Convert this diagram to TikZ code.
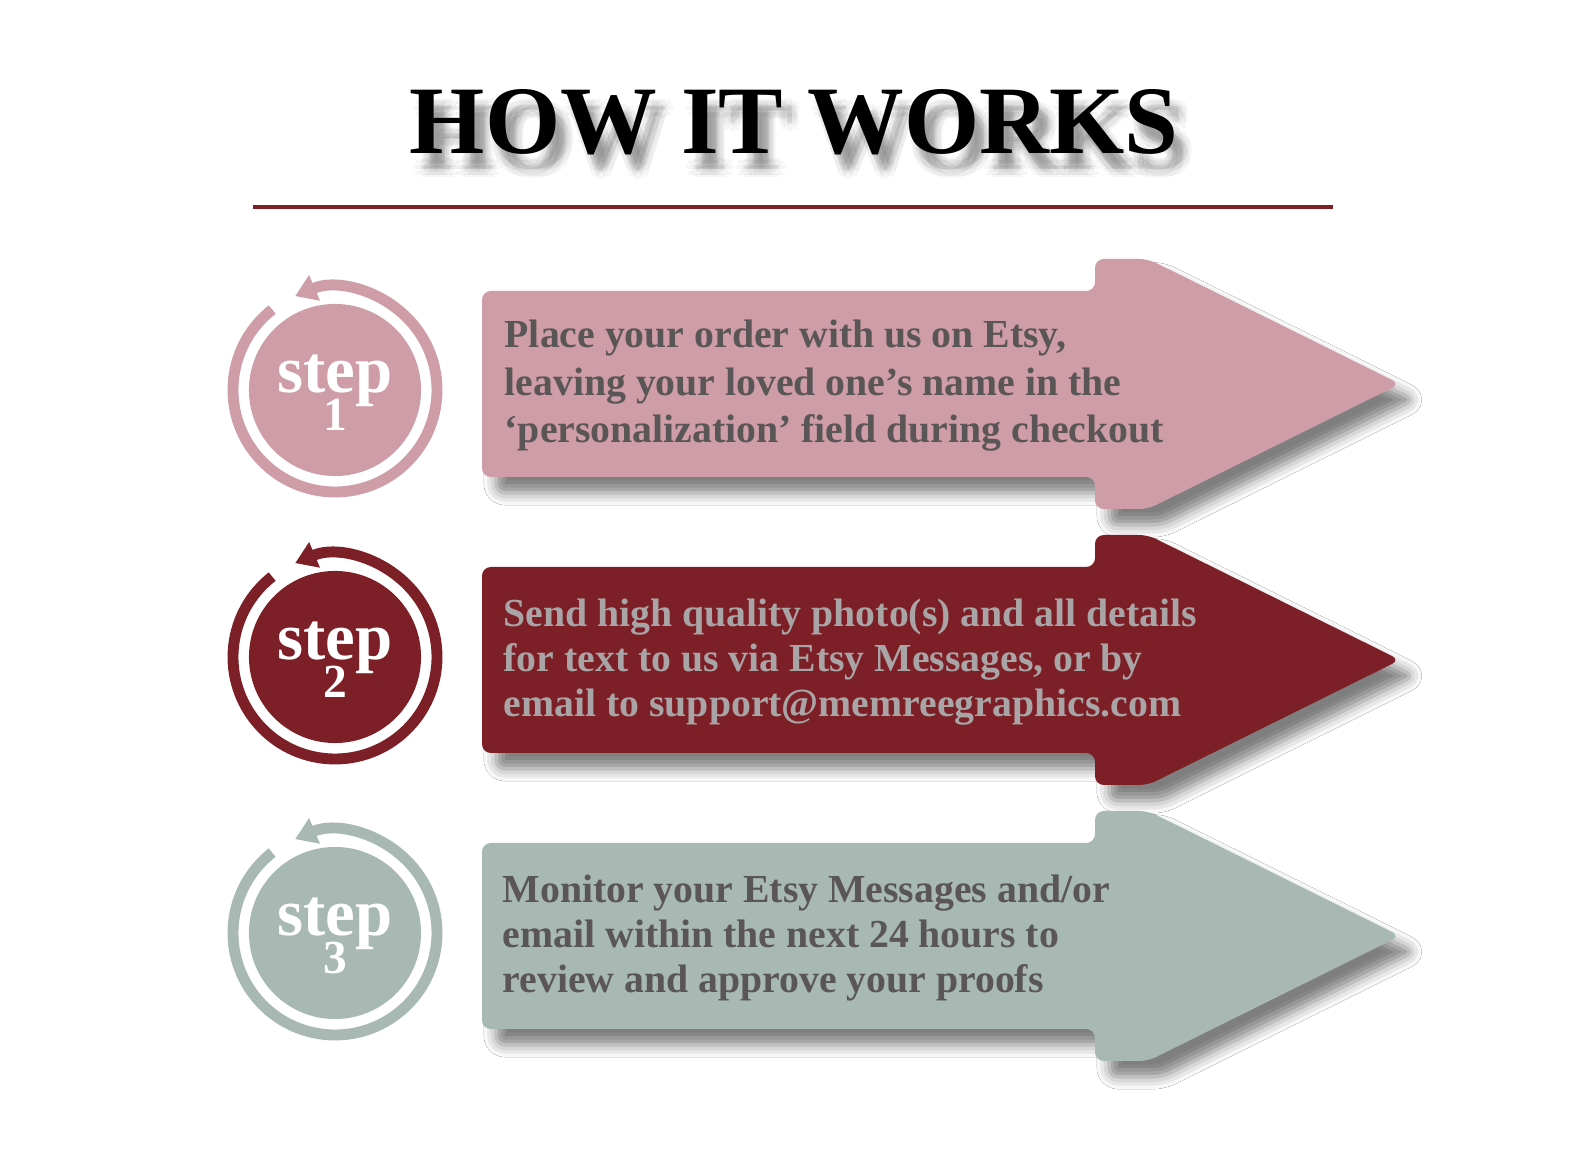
\documentclass[tikz,border=0pt]{standalone}
\usepackage{fontspec}
\setmainfont{Liberation Serif}
\usepackage{tikz}
\usetikzlibrary{positioning,calc,arrows.meta,shadows.blur}
\definecolor{rose}{HTML}{CE9DA7}
\definecolor{wine}{HTML}{7D1F27}
\definecolor{sage}{HTML}{A8B8B2}
\definecolor{ink}{HTML}{5A5556}
\definecolor{mist}{HTML}{A9A5A6}
\newcommand{\ttlcopy}[2]{\makebox[0pt][l]{\hspace*{#1}\raisebox{#2}{HOW IT WORKS}}}
\tikzset{
ttl/.style={font=\fontsize{27.5}{30}\selectfont\bfseries, inner sep=0pt, anchor=base},
bar/.style={line width=1.1pt, draw=wine},
arw/.style={rounded corners=2.5pt,
  blur shadow={shadow xshift=4pt, shadow yshift=-4.5pt, shadow blur radius=3.5pt, shadow opacity=50}},
txt/.style={font=\fontsize{11.3}{13.5}\selectfont\bfseries, align=left, inner sep=0pt, anchor=west},
disk/.style={circle, minimum size=1.72cm, inner sep=0pt},
ring/.style={line width=3.1pt, -{Triangle[width=7.5pt,length=6pt]}},
stx/.style={text=white, font=\fontsize{19}{20}\selectfont\bfseries, inner sep=0pt, anchor=base},
snum/.style={text=white, font=\fontsize{13.5}{14}\selectfont\bfseries, inner sep=0pt, anchor=base},
}
\begin{document}
\begin{tikzpicture}[x=0.01cm, y=0.01cm]
	\useasboundingbox[fill=white] (0,0) rectangle (1588,1176);

	% title with soft shadow
	\node[ttl, text=black, text opacity=0.035] (tsh) at (794,1022) {\ttlcopy{3pt}{-4.5pt}\ttlcopy{1.4pt}{-3pt}\ttlcopy{4.6pt}{-6pt}%
		\ttlcopy{4.6pt}{-3pt}\ttlcopy{1.4pt}{-6pt}\ttlcopy{3pt}{-2.4pt}\ttlcopy{3pt}{-6.6pt}%
		\ttlcopy{0.8pt}{-4.5pt}\ttlcopy{5.2pt}{-4.5pt}\ttlcopy{2.2pt}{-5.2pt}\ttlcopy{3.8pt}{-3.8pt}%
		\ttlcopy{3pt}{-4.5pt}\ttlcopy{2.4pt}{-4pt}\ttlcopy{3.6pt}{-5pt}\phantom{HOW IT WORKS}};
	\node[ttl] (ttl) at (794,1022) {HOW IT WORKS};
	\coordinate (l0) at (253,969);
	\coordinate (l1) at (1333,969);
	\draw[bar] (l0) -- (l1);

	% arrows
	\path[arw, fill=rose] (482,792) -- (482,885) -- (1095,885) -- (1095,917) -- (1148,917)
		-- (1400,792) -- (1148,667) -- (1095,667) -- (1095,699) -- (482,699) -- cycle;
	\path[arw, fill=wine] (482,516) -- (482,609) -- (1095,609) -- (1095,641) -- (1148,641)
		-- (1400,516) -- (1148,391) -- (1095,391) -- (1095,423) -- (482,423) -- cycle;
	\path[arw, fill=sage] (482,240) -- (482,333) -- (1095,333) -- (1095,365) -- (1148,365)
		-- (1400,240) -- (1148,115) -- (1095,115) -- (1095,147) -- (482,147) -- cycle;

	\node[txt, text=ink] (a1) at (504,790) {Place your order with us on Etsy,\\leaving your loved one’s name in the\\‘personalization’ field during checkout};
	\node[txt, text=mist, font=\fontsize{11.3}{12.7}\selectfont\bfseries] (a2) at (503,514) {Send high quality photo(s) and all details\\for text to us via Etsy Messages, or by\\email to support@memreegraphics.com};
	\node[txt, text=ink, font=\fontsize{11.3}{12.7}\selectfont\bfseries] (a3) at (502,238) {Monitor your Etsy Messages and/or\\email within the next 24 hours to\\review and approve your proofs};

	% step badges
	\node[disk, fill=rose] (d1) at (335,786) {};
	\node[disk, fill=wine] (d2) at (335,519) {};
	\node[disk, fill=sage] (d3) at (335,243) {};
	\draw[ring, draw=rose, fill=none] (d1.center) ++(128:102) arc[start angle=128, end angle=473, radius=102];
	\draw[ring, draw=wine, fill=none] (d2.center) ++(128:102) arc[start angle=128, end angle=473, radius=102];
	\draw[ring, draw=sage, fill=none] (d3.center) ++(128:102) arc[start angle=128, end angle=473, radius=102];

	\node[stx] (st1) at ([yshift=-0.6pt]d1.center) {step};
	\node[snum] (sn1) at ([yshift=-11.6pt]d1.center) {1};
	\node[stx] (st2) at ([yshift=-0.6pt]d2.center) {step};
	\node[snum] (sn2) at ([yshift=-11.6pt]d2.center) {2};
	\node[stx] (st3) at ([yshift=-0.6pt]d3.center) {step};
	\node[snum] (sn3) at ([yshift=-11.6pt]d3.center) {3};
\end{tikzpicture}
\end{document}
